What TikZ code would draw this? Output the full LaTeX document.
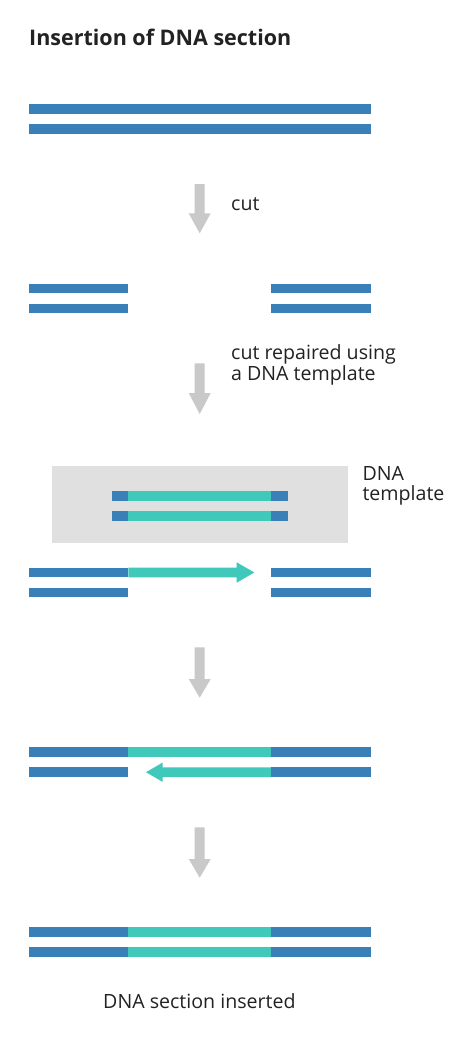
\documentclass[tikz,border=0pt]{standalone}
\usepackage{fontspec}
\setmainfont{Open Sans}
\definecolor{dnablue}{HTML}{3A80B8}
\definecolor{dnateal}{HTML}{40C8BA}
\definecolor{arrowgray}{HTML}{C9C9C9}
\definecolor{boxgray}{HTML}{E0E0E0}
\definecolor{txt}{HTML}{222222}
\begin{document}
\begin{tikzpicture}[x=1pt,y=-1pt,
  blue strand/.style={fill=dnablue, draw=none},
  teal strand/.style={fill=dnateal, draw=none},
  step arrow/.style={fill=arrowgray, draw=none},
  label/.style={text=txt, font=\fontsize{19.6}{21}\selectfont, inner sep=0pt, anchor=base west, align=left},
]
\useasboundingbox[fill=white] (0,0) rectangle (474,1037);
% title
\node[label, font=\bfseries\fontsize{21.5}{24}\selectfont] (title) at (29,45) {Insertion of DNA section};

% step 1: intact DNA
\fill[blue strand] (29,104.3) rectangle (371,113.7);
\fill[blue strand] (29,124.3) rectangle (371,133.7);

% arrow 1
\fill[step arrow] (194.7,184) -- (204.7,184) -- (204.7,213.3) -- (210.7,213.3) -- (199.7,233.3) -- (188.7,213.3) -- (194.7,213.3) -- cycle;
\node[label] (cut) at (231,210) {cut};

% step 2: cut DNA
\fill[blue strand] (29,283.7) rectangle (128.3,293.3);
\fill[blue strand] (29,303.7) rectangle (128.3,313.3);
\fill[blue strand] (271,283.7) rectangle (371,293.3);
\fill[blue strand] (271,303.7) rectangle (371,313.3);

% arrow 2
\fill[step arrow] (194.7,363.3) -- (204.7,363.3) -- (204.7,393) -- (210.7,393) -- (199.7,414) -- (188.7,393) -- (194.7,393) -- cycle;
\node[label] (repair) at (231,380.7) {cut repaired using\\a DNA template};

% template box
\fill[boxgray] (51.7,465.7) rectangle (347.7,543.3);
\fill[blue strand] (111.7,491) rectangle (128.3,500.7);
\fill[teal strand] (128.3,491) rectangle (271,500.7);
\fill[blue strand] (271,491) rectangle (288,500.7);
\fill[blue strand] (111.7,511) rectangle (128.3,520.7);
\fill[teal strand] (128.3,511) rectangle (271,520.7);
\fill[blue strand] (271,511) rectangle (288,520.7);
\node[label, font=\fontsize{19.6}{20}\selectfont] (tmpl) at (362.3,500.7) {DNA\\template};

% step 3: synthesis along top strand
\fill[blue strand] (29,567.7) rectangle (128.3,577.3);
\fill[teal strand] (128.3,567.7) -- (236.7,567.7) -- (236.7,562.3) -- (254.3,572.5) -- (236.7,582.7) -- (236.7,577.3) -- (128.3,577.3) -- cycle;
\fill[blue strand] (29,587.7) rectangle (128.3,597.3);
\fill[blue strand] (271,567.7) rectangle (371,577.3);
\fill[blue strand] (271,587.7) rectangle (371,597.3);

% arrow 3
\fill[step arrow] (194.7,647.3) -- (204.7,647.3) -- (204.7,679) -- (210.7,679) -- (199.7,697.7) -- (188.7,679) -- (194.7,679) -- cycle;

% step 4: synthesis along bottom strand
\fill[blue strand] (29,747.3) rectangle (128.3,757);
\fill[teal strand] (128.3,747.3) rectangle (271,757);
\fill[blue strand] (271,747.3) rectangle (371,757);
\fill[blue strand] (29,767.3) rectangle (128.3,777);
\fill[teal strand] (271,767.3) -- (162.7,767.3) -- (162.7,762.5) -- (146,772.2) -- (162.7,781.9) -- (162.7,777) -- (271,777) -- cycle;
\fill[blue strand] (271,767.3) rectangle (371,777);

% arrow 4
\fill[step arrow] (194.7,827.3) -- (204.7,827.3) -- (204.7,859) -- (210.7,859) -- (199.7,877.7) -- (188.7,859) -- (194.7,859) -- cycle;

% step 5: inserted
\fill[blue strand] (29,927) rectangle (128.3,936.7);
\fill[teal strand] (128.3,927) rectangle (271,936.7);
\fill[blue strand] (271,927) rectangle (371,936.7);
\fill[blue strand] (29,947) rectangle (128.3,956.7);
\fill[teal strand] (128.3,947) rectangle (271,956.7);
\fill[blue strand] (271,947) rectangle (371,956.7);
\node[label, anchor=base] (done) at (199.4,1008.3) {DNA section inserted};
\end{tikzpicture}
\end{document}
